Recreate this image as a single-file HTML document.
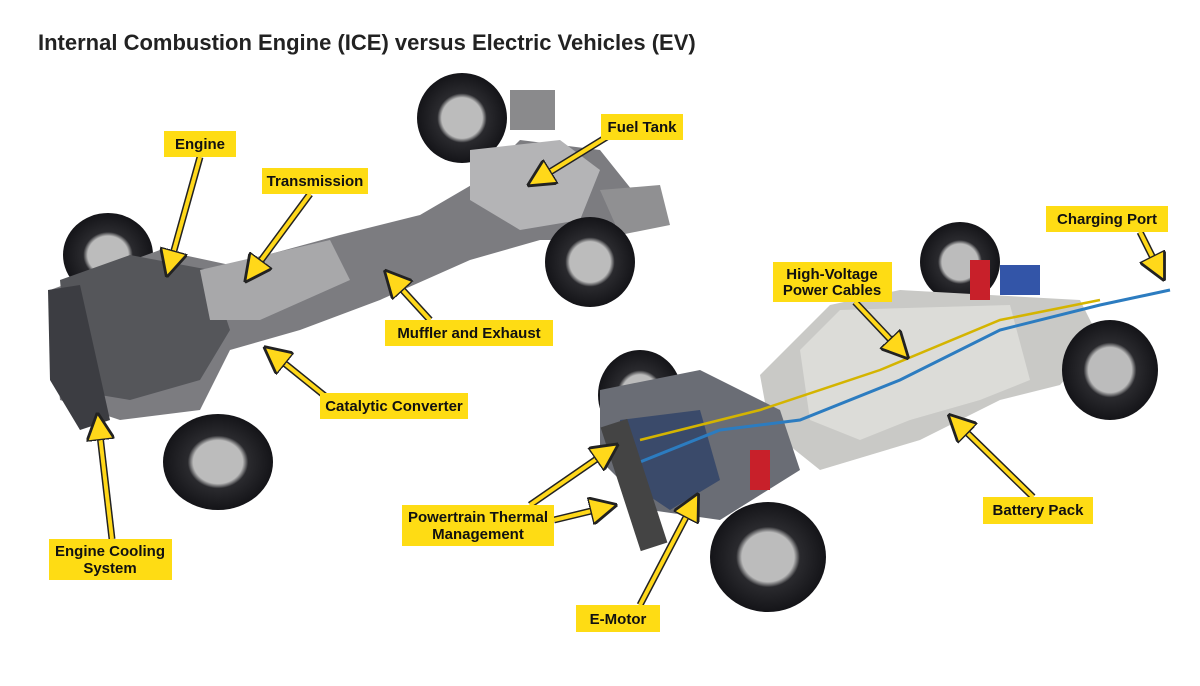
<!DOCTYPE html>
<html><head><meta charset="utf-8"><style>
html,body{margin:0;padding:0;background:#fff;}
svg{display:block;}
.t{font-family:"Liberation Sans",sans-serif;font-weight:bold;font-size:15px;fill:#111;}
</style></head><body>
<svg width="1200" height="686" viewBox="0 0 1200 686" xmlns="http://www.w3.org/2000/svg">
<defs>
<marker id="ah" viewBox="0 0 10 10" refX="8" refY="5" markerWidth="7" markerHeight="7" orient="auto">
<path d="M0,0 L10,5 L0,10 z" fill="#ffd81a" stroke="#222" stroke-width="1"/>
</marker>
<radialGradient id="tire" cx="50%" cy="50%" r="50%"><stop offset="0.45" stop-color="#bcbcbc"/><stop offset="0.55" stop-color="#2a2a2e"/><stop offset="1" stop-color="#141418"/></radialGradient>
</defs>
<text x="38" y="50" font-family="Liberation Sans,sans-serif" font-weight="bold" font-size="22" fill="#222">Internal Combustion Engine (ICE) versus Electric Vehicles (EV)</text>

<ellipse cx="108" cy="255" rx="45" ry="42" fill="url(#tire)"/>
<ellipse cx="462" cy="118" rx="45" ry="45" fill="url(#tire)"/>
<polygon points="50,290 160,250 230,265 340,235 420,215 480,180 520,140 600,150 640,200 600,240 540,240 470,260 380,300 300,330 230,350 200,410 120,420 60,400" fill="#7c7c80"/>
<polygon points="60,280 130,255 210,270 230,330 200,380 130,400 70,390" fill="#55565a"/>
<polygon points="200,270 330,240 350,280 260,320 210,320" fill="#a8a8aa"/>
<polygon points="470,150 560,140 600,170 580,220 520,230 470,200" fill="#b4b4b6"/>
<rect x="510" y="90" width="45" height="40" fill="#8a8a8c"/>
<polygon points="600,190 660,185 670,225 620,235" fill="#909092"/>
<ellipse cx="590" cy="262" rx="45" ry="45" fill="url(#tire)"/>
<ellipse cx="218" cy="462" rx="55" ry="48" fill="url(#tire)"/>
<polygon points="48,290 80,285 110,420 80,430 50,380" fill="#3c3d42"/>

<ellipse cx="960" cy="262" rx="40" ry="40" fill="url(#tire)"/>
<ellipse cx="640" cy="395" rx="42" ry="45" fill="url(#tire)"/>
<polygon points="760,375 830,305 900,290 1080,300 1100,340 1060,385 1000,400 920,440 820,470 770,430" fill="#c9c9c6"/>
<polygon points="800,350 840,310 1010,305 1030,380 980,400 910,420 860,440 810,420" fill="#dcdcd8"/>
<polygon points="600,390 700,370 780,410 800,470 720,520 650,510 600,460" fill="#6a6d75"/>
<polygon points="620,420 700,410 720,480 670,510 625,480" fill="#3a4a6a"/>
<polyline points="620,470 720,430 800,420 900,380 1000,330 1100,305 1170,290" fill="none" stroke="#2c7cc0" stroke-width="3"/>
<polyline points="640,440 760,410 880,370 1000,320 1100,300" fill="none" stroke="#d4b400" stroke-width="2.5"/>
<rect x="620" y="420" width="28" height="130" fill="#444" transform="rotate(-18 634 485)"/>
<rect x="1000" y="265" width="40" height="30" fill="#3355a8"/>
<rect x="970" y="260" width="20" height="40" fill="#c8202a"/>
<rect x="750" y="450" width="20" height="40" fill="#c8202a"/>
<ellipse cx="1110" cy="370" rx="48" ry="50" fill="url(#tire)"/>
<ellipse cx="768" cy="557" rx="58" ry="55" fill="url(#tire)"/>

<g stroke="#222" stroke-width="7" fill="none" stroke-linecap="butt">
<line x1="200" y1="157" x2="168" y2="272"/><line x1="310" y1="194" x2="248" y2="278"/>
<line x1="610" y1="135" x2="532" y2="183"/><line x1="430" y1="320" x2="388" y2="274"/>
<line x1="330" y1="400" x2="268" y2="350"/><line x1="112" y1="539" x2="98" y2="418"/>
<line x1="1140" y1="232" x2="1162" y2="276"/><line x1="855" y1="302" x2="905" y2="355"/>
<line x1="1033" y1="497" x2="952" y2="418"/><line x1="530" y1="505" x2="614" y2="447"/>
<line x1="554" y1="520" x2="612" y2="506"/><line x1="640" y1="605" x2="696" y2="498"/>
</g>
<g stroke="#ffd81a" stroke-width="4" fill="none" marker-end="url(#ah)">
<line x1="200" y1="157" x2="168" y2="272"/><line x1="310" y1="194" x2="248" y2="278"/>
<line x1="610" y1="135" x2="532" y2="183"/><line x1="430" y1="320" x2="388" y2="274"/>
<line x1="330" y1="400" x2="268" y2="350"/><line x1="112" y1="539" x2="98" y2="418"/>
<line x1="1140" y1="232" x2="1162" y2="276"/><line x1="855" y1="302" x2="905" y2="355"/>
<line x1="1033" y1="497" x2="952" y2="418"/><line x1="530" y1="505" x2="614" y2="447"/>
<line x1="554" y1="520" x2="612" y2="506"/><line x1="640" y1="605" x2="696" y2="498"/>
</g>

<g fill="#fedc14">
<rect x="164" y="131" width="72" height="26"/><rect x="262" y="168" width="106" height="26"/>
<rect x="601" y="114" width="82" height="26"/><rect x="385" y="320" width="168" height="26"/>
<rect x="320" y="393" width="148" height="26"/><rect x="49" y="539" width="123" height="41"/>
<rect x="1046" y="206" width="122" height="26"/><rect x="773" y="262" width="119" height="40"/>
<rect x="983" y="497" width="110" height="27"/><rect x="402" y="505" width="152" height="41"/>
<rect x="576" y="605" width="84" height="27"/>
</g>
<g class="t" text-anchor="middle">
<text x="200" y="149">Engine</text><text x="315" y="186">Transmission</text>
<text x="642" y="132">Fuel Tank</text><text x="469" y="338">Muffler and Exhaust</text>
<text x="394" y="411">Catalytic Converter</text>
<text x="110" y="556">Engine Cooling</text><text x="110" y="573">System</text>
<text x="1107" y="224">Charging Port</text>
<text x="832" y="279">High-Voltage</text><text x="832" y="295">Power Cables</text>
<text x="1038" y="515">Battery Pack</text>
<text x="478" y="522">Powertrain Thermal</text><text x="478" y="539">Management</text>
<text x="618" y="624">E-Motor</text>
</g>
</svg>
</body></html>
